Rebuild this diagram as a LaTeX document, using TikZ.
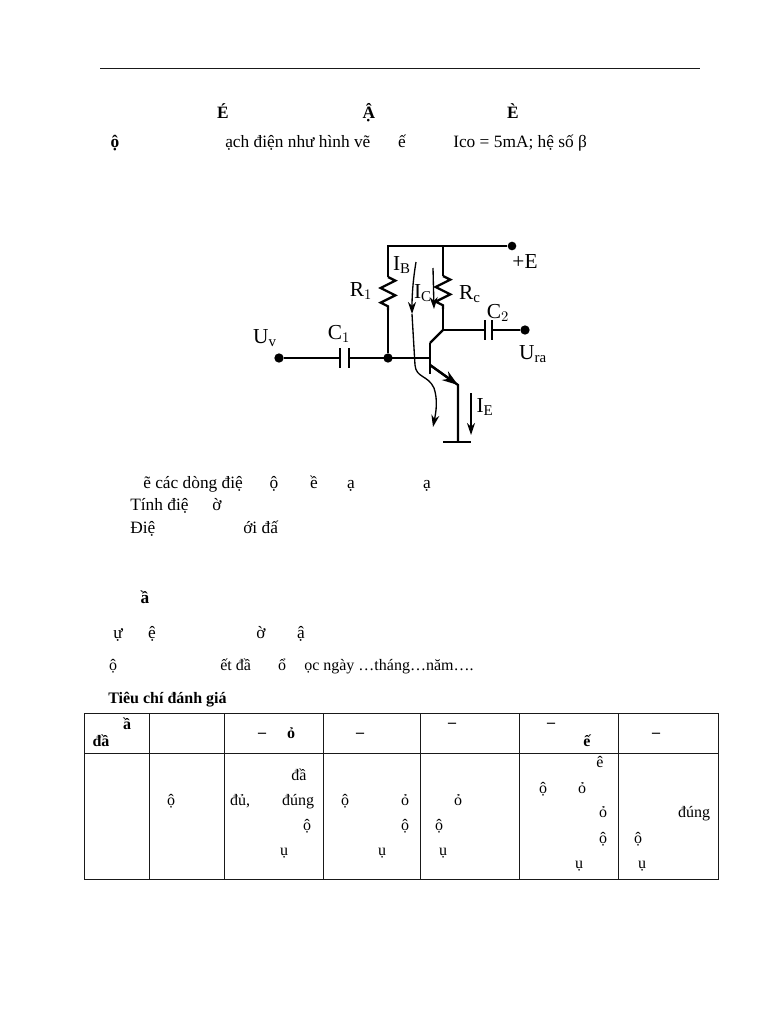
\documentclass[tikz,border=0pt]{standalone}
\usepackage{fontspec}
\setmainfont{Liberation Serif}
\usetikzlibrary{arrows.meta,decorations.pathmorphing}

\tikzset{
  txt/.style={anchor=base west,inner sep=0pt,font=\fontsize{12}{14}\selectfont},
  ctr/.style={txt,anchor=base},
  bld/.style={ctr,font=\fontsize{12}{14}\selectfont\bfseries},
  bigtxt/.style={txt,font=\fontsize{13}{15}\selectfont},
  bigctr/.style={bigtxt,anchor=base},
  bigbld/.style={bigctr,font=\fontsize{13}{15}\selectfont\bfseries},
  lbl/.style={inner sep=0pt,font=\fontsize{16}{18}\selectfont},
  wire/.style={line width=1.7pt},
  dot/.style={circle,fill=black,inner sep=0pt,minimum size=6.5pt},
  flow/.style={line width=1pt,-{Stealth[length=9pt,width=6pt]}},
  rule/.style={line width=0.6pt,black!90}
}

\begin{document}
\begin{tikzpicture}[x=0.75pt,y=-0.75pt]
\useasboundingbox (0,0) rectangle (768,1024);

% page text
\draw[rule] (100,68) -- (700,68);
\foreach \px/\py/\ch [count=\n] in {223/118/É,369/118/Ậ,513/118/È,115/147/ộ,145/603/ầ}
  \node[bigbld] (head\n) at (\px,\py) {\ch};
\foreach \px/\py/\ch [count=\n] in {402/147/ế,274/488/ộ,314/488/ề,351/488/ạ,427/488/ạ,217/510/ờ,
    118/638/ự,152/638/ệ,261/638/ờ,301/638/ậ}
  \node[bigctr] (ch\n) at (\px,\py) {\ch};
\foreach \px/\py/\ch [count=\n] in {225/147/ạch điện như hình vẽ,453/147/Ico = 5mA; hệ số β,
    143/488/ẽ các dòng điệ,130/510/Tính điệ,130/533/Điệ,243/533/ới đấ}
  \node[bigtxt] (line\n) at (\px,\py) {\ch};
\node[ctr] (sign1) at (113,670) {ộ};
\node[ctr] (sign2) at (282,670) {ổ};
\node[txt] (sign3) at (220,670) {ết đầ};
\node[txt] (sign4) at (304,670) {ọc ngày …tháng…năm….};
\node[txt,font=\fontsize{12}{14}\selectfont\bfseries] (crit) at (108,703) {Tiêu chí đánh giá};

% circuit
\coordinate (railL) at (388,246);
\coordinate (railM) at (443,246);
\coordinate (r1top) at (388,277);
\coordinate (r1bot) at (388,310);
\coordinate (rctop) at (443,276);
\coordinate (rcbot) at (443,309);
\coordinate (coll) at (443,330);
\coordinate (bup) at (430,343);
\coordinate (blo) at (430,374);
\coordinate (bmid) at (430,358);
\coordinate (emit) at (458,385);
\coordinate (gnd) at (458,442);
\coordinate (gndL) at (443,442);
\coordinate (gndR) at (471,442);
\coordinate (c1a) at (340,358);
\coordinate (c1b) at (349,358);
\coordinate (c2a) at (485,330);
\coordinate (c2b) at (492,330);
\node[dot] (plus) at (512,246) {};
\node[dot,minimum size=7pt] (uin) at (279,358) {};
\node[dot,minimum size=7pt] (junc) at (388,358) {};
\node[dot,minimum size=7pt] (uout) at (525,330) {};

\draw[wire] (plus) -- (railL) -- (r1top);
\draw[wire,decorate,decoration={zigzag,segment length=11pt,amplitude=5.5pt}] (r1top) -- (r1bot);
\draw[wire] (r1bot) -- (junc);
\draw[wire] (railM) -- (rctop);
\draw[wire,decorate,decoration={zigzag,segment length=11pt,amplitude=5.5pt}] (rctop) -- (rcbot);
\draw[wire] (rcbot) -- (coll) -- (c2a);
\draw[wire] (c2b) -- (uout);
\draw[wire] (uin) -- (c1a);
\draw[wire] (c1b) -- (bmid);
\draw[wire] (c1a) ++(0,-10) -- ++(0,20);
\draw[wire] (c1b) ++(0,-10) -- ++(0,20);
\draw[wire] (c2a) ++(0,-10) -- ++(0,20);
\draw[wire] (c2b) ++(0,-10) -- ++(0,20);
\draw[wire,line width=2pt] (bup) -- (blo);
\draw[wire] (bup) -- (coll);
\draw[wire] (blo |- 0,365) -- (emit) -- (gnd);
\draw[wire,-{Stealth[length=12pt,width=8pt]}] (blo |- 0,365) -- (emit);
\draw[wire] (gndL) -- (gndR);

% currents
\coordinate (ibtop) at (416,262);
\coordinate (ibarr) at (412,314);
\coordinate (ibout) at (433,427);
\coordinate (ictop) at (433,268);
\coordinate (icend) at (434,309);
\coordinate (ietop) at (471,393);
\coordinate (ieend) at (471,435);
\draw[flow] (ibtop) .. controls (413,280) and (412,295) .. (ibarr);
\draw[flow] (ibarr) -- (415,365)
  .. controls (416,378) and (428,375) .. (434,388)
  .. controls (438,400) and (436,412) .. (ibout);
\draw[flow] (ictop) -- (icend);
\draw[flow] (ietop) -- (ieend);

\node[lbl] (lUv) at (265,338) {U$_{\mathrm{v}}$};
\node[lbl] (lC1) at (339,334) {C$_{1}$};
\node[lbl] (lR1) at (361,291) {R$_{1}$};
\node[lbl] (lIB) at (402,265) {I$_{\mathrm{B}}$};
\node[lbl] (lIC) at (423,293) {I$_{\mathrm{C}}$};
\node[lbl] (lRc) at (470,294) {R$_{\mathrm{c}}$};
\node[lbl] (lC2) at (498,313) {C$_{2}$};
\node[lbl] (lE) at (525,262) {+E};
\node[lbl] (lUr) at (533,354) {U$_{\mathrm{ra}}$};
\node[lbl] (lIE) at (485,407) {I$_{\mathrm{E}}$};

% table
\draw[rule] (84,713) rectangle (718,879);
\draw[rule] (84,753) -- (718,753);
\foreach \tx in {149,224,323,420,519,618}
  \draw[rule] (\tx,713) -- (\tx,879);
\foreach \px/\py/\ch [count=\n] in {127/729/ầ,101/746/đầ,262/737/–,291/738/ỏ,360/737/–,452/727/–,551/727/–,587/746/ế,656/737/–}
  \node[bld] (thead\n) at (\px,\py) {\ch};
\foreach \px/\py/\ch [count=\n] in {171/805/ộ,299/780/đầ,240/805/{đủ,},298/805/đúng,307/830/ộ,284/855/ụ,
    345/805/ộ,405/805/ỏ,405/830/ộ,382/855/ụ,458/805/ỏ,439/830/ộ,443/855/ụ,
    600/767/ê,543/793/ộ,582/793/ỏ,603/817/ỏ,603/843/ộ,579/868/ụ,
    694/817/đúng,638/843/ộ,642/868/ụ}
  \node[ctr] (cell\n) at (\px,\py) {\ch};
\end{tikzpicture}
\end{document}
